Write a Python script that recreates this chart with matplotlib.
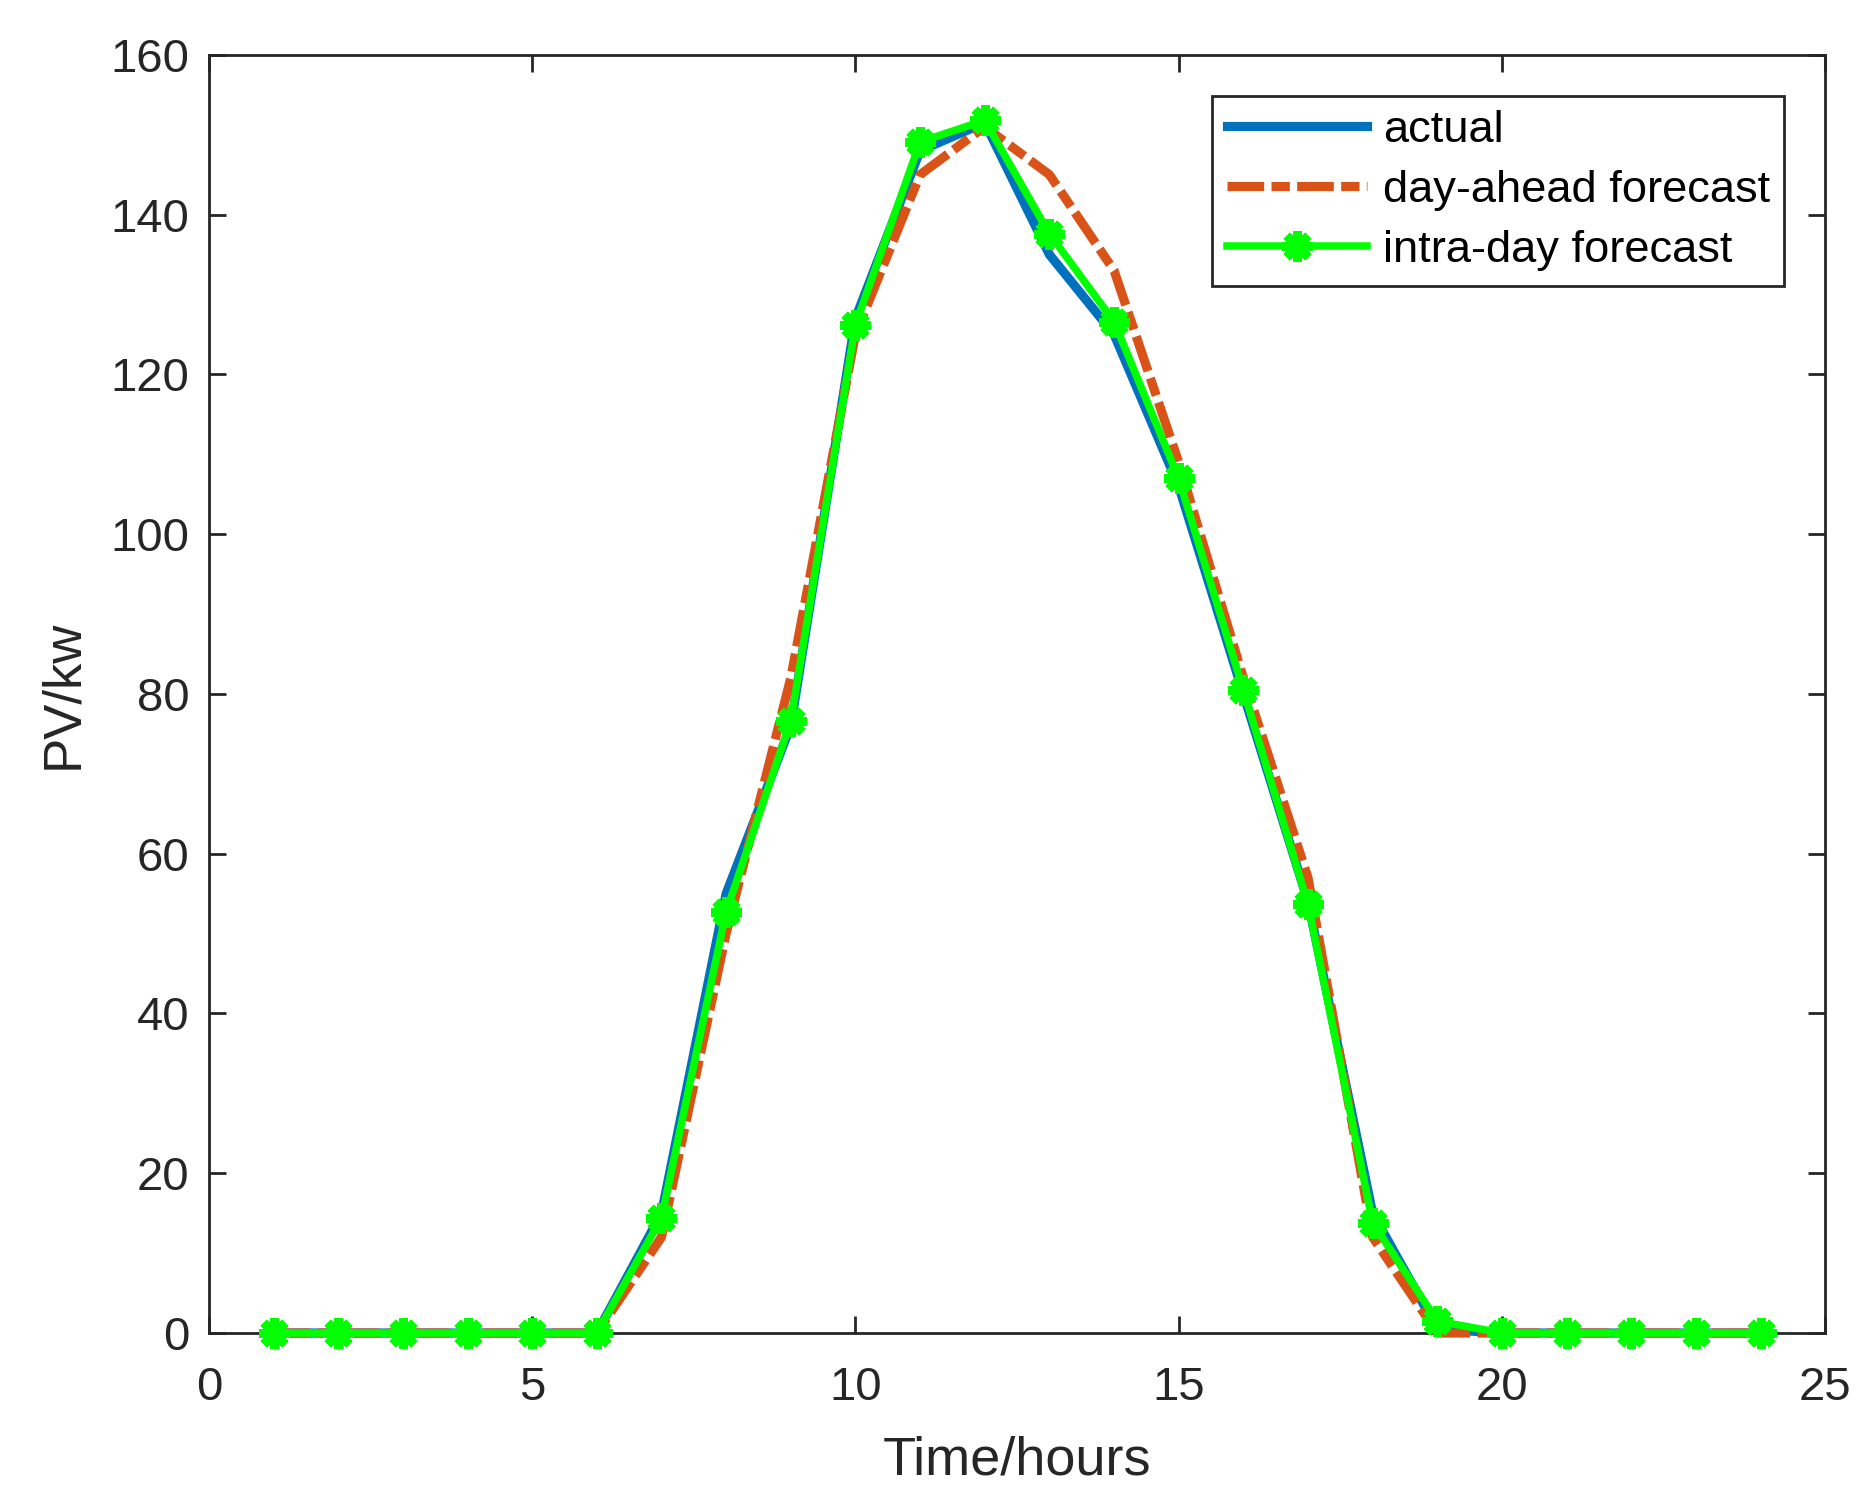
import matplotlib
matplotlib.use("Agg")
import matplotlib.pyplot as plt

hours = list(range(1, 25))
actual = [0, 0, 0, 0, 0, 0, 15, 55, 76, 127, 148, 151.5, 135, 125, 106, 80, 54, 15, 0.5, 0, 0, 0, 0, 0]
day_ahead = [0, 0, 0, 0, 0, 0, 12, 50, 82, 125, 145, 151, 145, 133, 109, 82, 57, 12, 0, 0, 0, 0, 0, 0]
intra_day = [0, 0, 0, 0, 0, 0, 14.4, 52.7, 76.6, 126.2, 149.1, 151.8, 137.6, 126.6, 107, 80.5, 53.7, 13.8, 1.5, 0, 0, 0, 0, 0]

xticks = [0, 5, 10, 15, 20, 25]
yticks = [0, 20, 40, 60, 80, 100, 120, 140, 160]

plt.rcParams['font.family'] = ['Liberation Sans', 'DejaVu Sans']

fig = plt.figure(figsize=(9.36, 7.51), dpi=200)
ax = fig.add_axes([0.1116, 0.1125, 0.8634, 0.851])

ax.plot(hours, actual, color="#0072BD", linewidth=3.3, label="actual", clip_on=False, zorder=3)
ax.plot(hours, day_ahead, color="#D95319", linewidth=3.3, dashes=(4.0, 0.8, 2.0, 0.8),
        dash_capstyle="butt", label="day-ahead forecast", clip_on=False, zorder=4)
ax.plot(hours, intra_day, color="#00FF00", linewidth=2.7, marker=(8, 2, 0), markersize=11,
        markeredgewidth=3.2, markeredgecolor="#00FF00", label="intra-day forecast", clip_on=False, zorder=5)

ax.set_xlim(0, 25)
ax.set_ylim(0, 160)
ax.set_xticks(xticks)
ax.set_yticks(yticks)

for s in ax.spines.values():
    s.set_linewidth(1.0)
    s.set_color("#262626")
    s.set_zorder(2)

ax.tick_params(direction="in", length=6, width=1.0, color="#262626", labelcolor="#262626",
               labelsize=17, top=True, right=True)
ax.tick_params(axis="y", pad=7)
ax.tick_params(axis="x", pad=12)

ax.set_xlabel("Time/hours", fontsize=19.5, color="#262626", labelpad=9)
ax.set_ylabel("PV/kw", fontsize=19, color="#262626", labelpad=8)

leg = ax.legend(loc="upper right", fontsize=16.3, frameon=True, fancybox=False,
                handlelength=3.1, handletextpad=0.35, labelspacing=0.42,
                borderaxespad=0.9, borderpad=0.32)
leg.get_frame().set_edgecolor("#262626")
leg.get_frame().set_linewidth(1.0)
leg.get_frame().set_alpha(1)

fig.savefig("out.png", dpi=200)
